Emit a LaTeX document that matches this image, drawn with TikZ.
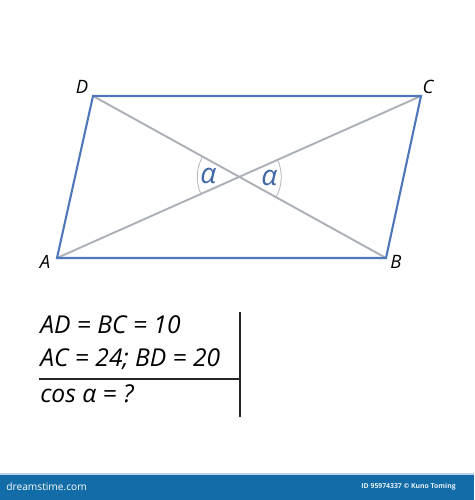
\documentclass[tikz,border=0pt]{standalone}
\usepackage{fontspec}
\setmainfont{Open Sans}
\usetikzlibrary{calc}
\usetikzlibrary{angles}
\usepackage{xcolor}
\definecolor{sideblue}{RGB}{78,118,186}
\definecolor{diaggray}{RGB}{172,177,183}
\definecolor{arcgray}{RGB}{182,186,190}
\definecolor{alphablue}{RGB}{66,104,168}
\definecolor{bannerblue}{RGB}{18,108,168}

\begin{document}
\begin{tikzpicture}[x=0.02cm, y=0.02cm]
        % ================= 样式定义 =================
        \tikzset{
            blue_side/.style={line width=1.2pt, sideblue},
            gray_diag/.style={line width=1.1pt, diaggray},
            angle_arc/.style={draw=arcgray, line width=0.5pt, angle radius=0.84cm},
            vlabel/.style={inner sep=0pt, font=\itshape\fontsize{10.5}{12}\selectfont},
            alpha_label/.style={inner sep=0pt, text=alphablue, font=\itshape\fontsize{16}{18}\selectfont},
            given/.style={anchor=base west, inner sep=0pt, font=\itshape\fontsize{14}{16}\selectfont},
            table_rule/.style={line width=1pt, black!85}
        }
        \useasboundingbox (0,0) rectangle (474,500);

        % ================= 平行四边形 ABCD =================
        \coordinate (A) at (57,242);
        \coordinate (B) at (386,242);
        \coordinate (C) at (421,404);
        \coordinate (D) at (93,404);
        \coordinate (O) at (intersection of A--C and B--D);

        % 对角线 AC, BD
        \draw[gray_diag] (A) -- (C) (B) -- (D);
        % 四条边
        \draw[blue_side] (A) -- (B) -- (C) -- (D) -- cycle;

        % 顶点标注
        \foreach \p/\lx/\ly in {A/45/238, B/396/238, C/428/413, D/82/413} {
            \node[vlabel] (l\p) at (\lx,\ly) {\p};
        }

        % 两个角 alpha
        \pic[angle_arc] {angle = D--O--A};
        \pic[angle_arc] {angle = B--O--C};
        \node[alpha_label] (a1) at ($(O)+(-31,1)$) {α};
        \node[alpha_label] (a2) at ($(O)+(30,-1)$) {α};

        % ================= 已知条件 =================
        \node[given] (g1) at (40,166) {AD = BC = 10};
        \node[given] (g2) at (40,133) {AC = 24; BD = 20};
        \node[given] (q) at (40,97) {cos α = ?};
        \coordinate (hl) at (39,121);
        \coordinate (hr) at (240,121);
        \coordinate (vt) at (240,188);
        \coordinate (vb) at (240,83);
        \draw[table_rule] (hl) -- (hr);
        \draw[table_rule] (vt) -- (vb);

        % ================= 底部横条 =================
        \fill[bannerblue] (0,0) rectangle (474,26);
        \draw[white!70!bannerblue, line width=0.6pt] (0,26) -- (474,26);
        \node[anchor=west, inner sep=0pt, text=white, font=\fontsize{5.8}{7}\selectfont] (logo) at (6,13) {dreamstime.com};
        \node[anchor=east, inner sep=0pt, text=white!90!bannerblue, font=\bfseries\fontsize{3.9}{5}\selectfont] (credit) at (456,13) {ID 95974337 © Kuno Toming};

    \end{tikzpicture}
\end{document}
